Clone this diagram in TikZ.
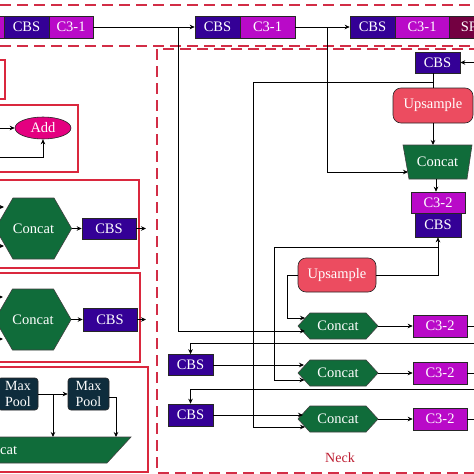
\documentclass[tikz,border=0pt]{standalone}
\usepackage{fontspec}
\setmainfont{Liberation Serif}
\usetikzlibrary{shapes.symbols,shapes.geometric,arrows.meta}
\definecolor{cbsc}{RGB}{52,0,150}
\definecolor{c3c}{RGB}{185,10,200}
\definecolor{sppc}{RGB}{115,0,65}
\definecolor{catc}{RGB}{16,108,58}
\definecolor{upc}{RGB}{236,76,96}
\definecolor{addc}{RGB}{228,0,128}
\definecolor{mpc}{RGB}{14,44,60}
\definecolor{redbox}{RGB}{218,40,62}
\definecolor{dashc}{RGB}{210,45,70}
\definecolor{neckc}{RGB}{190,30,50}
\begin{document}
\begin{tikzpicture}[x=1pt,y=-1pt,
  font=\fontsize{14.5pt}{16pt}\selectfont,
  box/.style={draw=black!85, line width=0.6pt, inner sep=0pt, text=white},
  cbs/.style={box, fill=cbsc},
  cthree/.style={box, fill=c3c},
  hexs/.style={signal, signal to=west and east, fill=catc, draw=black!75, line width=0.6pt, text=white, inner sep=0pt},
  ups/.style={box, fill=upc, rounded corners=8pt},
  mp/.style={box, fill=mpc, rounded corners=3pt, align=center, font=\fontsize{14pt}{16.5pt}\selectfont},
  conn/.style={draw=black, line width=0.75pt},
  arr/.style={conn, -{Stealth[length=5pt,width=4.5pt]}},
  solidbox/.style={draw=redbox, line width=1.1pt},
  dashbox/.style={draw=dashc, line width=1.8pt, dash pattern=on 11pt off 6pt}]
\useasboundingbox (0,0) rectangle (474,474);
\clip (0,0) rectangle (474,474);
\fill[white] (0,0) rectangle (474,474);

% dashed regions
\draw[dashbox] (0,5) -- (480,5);
\draw[dashbox] (0,46) -- (480,46);
\draw[dashbox] (480,49) -- (157,49) -- (157,473) -- (480,473);

% solid red module boxes
\draw[solidbox] (-5,60) rectangle (5,99);
\draw[solidbox] (-5,105) rectangle (78,172);
\draw[solidbox] (-5,180) rectangle (139,268);
\draw[solidbox] (-5,273) rectangle (140,362);
\draw[solidbox] (-5,367) rectangle (148,472);

% backbone row
\node[cthree, minimum width=54pt, minimum height=22pt] (bC30) at (-23,27) {};
\node[cbs, minimum width=45pt, minimum height=22pt] (bCBS1) at (26.5,27) {CBS};
\node[cthree, minimum width=44pt, minimum height=22pt] (bC31) at (71,27) {C3-1};
\node[cbs, minimum width=45pt, minimum height=22pt] (bCBS2) at (217.5,27) {CBS};
\node[cthree, minimum width=55pt, minimum height=22pt] (bC32) at (267.5,27) {C3-1};
\node[cbs, minimum width=45pt, minimum height=22pt] (bCBS3) at (372.5,27) {CBS};
\node[cthree, minimum width=54pt, minimum height=22pt] (bC33) at (422,27) {C3-1};
\node[box, fill=sppc, minimum width=56pt, minimum height=22pt] (bSPPF) at (477,27) {SPPF};

% Add module
\node[ellipse, fill=addc, draw=black!85, line width=0.6pt, minimum width=56pt, minimum height=22pt, inner sep=0pt, text=white] (add) at (43,128) {Add};

% Concat + CBS modules
\node[hexs, signal pointer angle=120, minimum width=73pt, minimum height=61pt] (catL1) at (33.5,228.5) {Concat};
\node[cbs, minimum width=54pt, minimum height=21pt] (cbsL1) at (109,228.5) {CBS};
\node[hexs, signal pointer angle=120, minimum width=76pt, minimum height=61pt] (catL2) at (33,319.5) {Concat};
\node[cbs, minimum width=54pt, minimum height=23pt] (cbsL2) at (110,319.5) {CBS};

% SPPF module
\node[mp, minimum width=40pt, minimum height=32pt] (mp1) at (18,394) {Max\\Pool};
\node[mp, minimum width=41pt, minimum height=32pt] (mp2) at (88.5,394) {Max\\Pool};
\draw[fill=catc, draw=black!75, line width=0.6pt] (-20,437) -- (131,437) -- (107,463) -- (-20,463) -- cycle;
\node[text=white, inner sep=0pt] (cat5) at (-3.5,450) {Concat};

% neck right column
\node[cbs, minimum width=45pt, minimum height=21pt] (nCBS1) at (437.5,62.5) {CBS};
\node[ups, minimum width=80pt, minimum height=35pt] (nUp1) at (433,105.5) {Upsample};
\draw[fill=catc, draw=black!75, line width=0.6pt] (403,145) -- (472,145) -- (467,179) -- (409,179) -- cycle;
\node[text=white, inner sep=0pt] (nCat1) at (437.5,162) {Concat};
\node[cthree, minimum width=54pt, minimum height=21pt] (nC3a) at (438,202.5) {C3-2};
\node[cbs, minimum width=46pt, minimum height=24pt] (nCBS2) at (438,225) {CBS};
\node[ups, minimum width=78pt, minimum height=34pt] (nUp2) at (337,275) {Upsample};

\node[hexs, signal pointer angle=95, minimum width=80pt, minimum height=26pt] (cA) at (338,326) {Concat};
\node[hexs, signal pointer angle=95, minimum width=80pt, minimum height=26pt] (cB) at (338,373) {Concat};
\node[hexs, signal pointer angle=95, minimum width=80pt, minimum height=26pt] (cC) at (338,419) {Concat};
\node[cthree, minimum width=54pt, minimum height=22pt] (n32a) at (440,326) {C3-2};
\node[cthree, minimum width=54pt, minimum height=22pt] (n32b) at (440,373) {C3-2};
\node[cthree, minimum width=54pt, minimum height=22pt] (n32c) at (440,419) {C3-2};
\node[cbs, minimum width=45pt, minimum height=21pt] (lC1) at (190.5,365) {CBS};
\node[cbs, minimum width=45pt, minimum height=22pt] (lC2) at (190.5,415) {CBS};
\node[text=neckc, inner sep=0pt, font=\fontsize{14pt}{16pt}\selectfont] (neck) at (340,458) {Neck};

% coordinates
\coordinate (jP3) at (178,27);
\coordinate (jP4) at (327,27);
\coordinate (j1) at (433,82);
\coordinate (j2) at (438,247);
\coordinate (nin) at (474,62.5);
\coordinate (nCat1t) at (433,145);
\coordinate (nCat1l) at (408,172);
\coordinate (nCat1b) at (436,179);
\coordinate (cAin1) at (305,318);
\coordinate (cAin2) at (305,331);
\coordinate (cBin1) at (304,365);
\coordinate (cBin2) at (304.5,380);
\coordinate (cCin1) at (303,415);
\coordinate (cCin2) at (305,427);
\coordinate (r1) at (476,343);
\coordinate (r2) at (476,389);
\coordinate (oA) at (476,326);
\coordinate (oB) at (476,373);
\coordinate (oC) at (476,419);
\coordinate (addin1) at (-5,128);
\coordinate (addin2) at (-5,157);
\coordinate (oL1) at (146,228.5);
\coordinate (oL2) at (146,319.5);
\coordinate (iL1a) at (-8,207);  \coordinate (eL1a) at (4,207);
\coordinate (iL1b) at (-8,246);  \coordinate (eL1b) at (4,246);
\coordinate (iL2a) at (-8,297);  \coordinate (eL2a) at (3,297);
\coordinate (iL2b) at (-8,339);  \coordinate (eL2b) at (3,339);
\coordinate (mpj) at (53,394);
\coordinate (cat5in1) at (53,437);
\coordinate (mp2o) at (109,397);
\coordinate (cat5in2) at (116,437);

% connectors: backbone
\draw[arr] (bC31.east) -- (bCBS2.west);
\draw[arr] (bC32.east) -- (bCBS3.west);

% connectors: left modules
\draw[arr] (addin1) -- (add.west);
\draw[arr] (addin2) -| (add.south);
\draw[arr] (iL1a) -- (eL1a);
\draw[arr] (iL1b) -- (eL1b);
\draw[arr] (catL1.east) -- (cbsL1.west);
\draw[arr] (cbsL1.east) -- (oL1);
\draw[arr] (iL2a) -- (eL2a);
\draw[arr] (iL2b) -- (eL2b);
\draw[arr] (catL2.east) -- (cbsL2.west);
\draw[arr] (cbsL2.east) -- (oL2);
\draw[arr] (mp1.east) -- (mp2.west);
\draw[arr] (mpj) -- (cat5in1);
\draw[arr] (mp2o) -| (cat5in2);

% connectors: neck
\draw[arr] (nin) -- (nCBS1.east);
\draw[conn] (nCBS1.south -| j1) -- (nUp1.north);
\draw[arr] (j1) -- (253,82) |- (cCin2);
\draw[arr] (nUp1.south) -- (nCat1t);
\draw[arr] (jP4) |- (nCat1l);
\draw[arr] (nCat1b) -- (nC3a.north -| nCat1b);
\draw[arr] (nUp2.east) -| (nCBS2.south);
\draw[arr] (j2) -- (274,247) |- (cBin2);
\draw[arr] (nUp2.west) -- (287,275) |- (cAin1);
\draw[arr] (jP3) |- (cAin2);
\draw[arr] (lC1.east) -- (cBin1);
\draw[arr] (lC2.east) -- (cCin1);
\draw[arr] (r1) -| (lC1.north);
\draw[arr] (r2) -| (lC2.north);
\draw[arr] (cA.east) -- (n32a.west);
\draw[arr] (cB.east) -- (n32b.west);
\draw[arr] (cC.east) -- (n32c.west);
\draw[conn] (n32a.east) -- (oA);
\draw[conn] (n32b.east) -- (oB);
\draw[conn] (n32c.east) -- (oC);
\end{tikzpicture}
\end{document}
